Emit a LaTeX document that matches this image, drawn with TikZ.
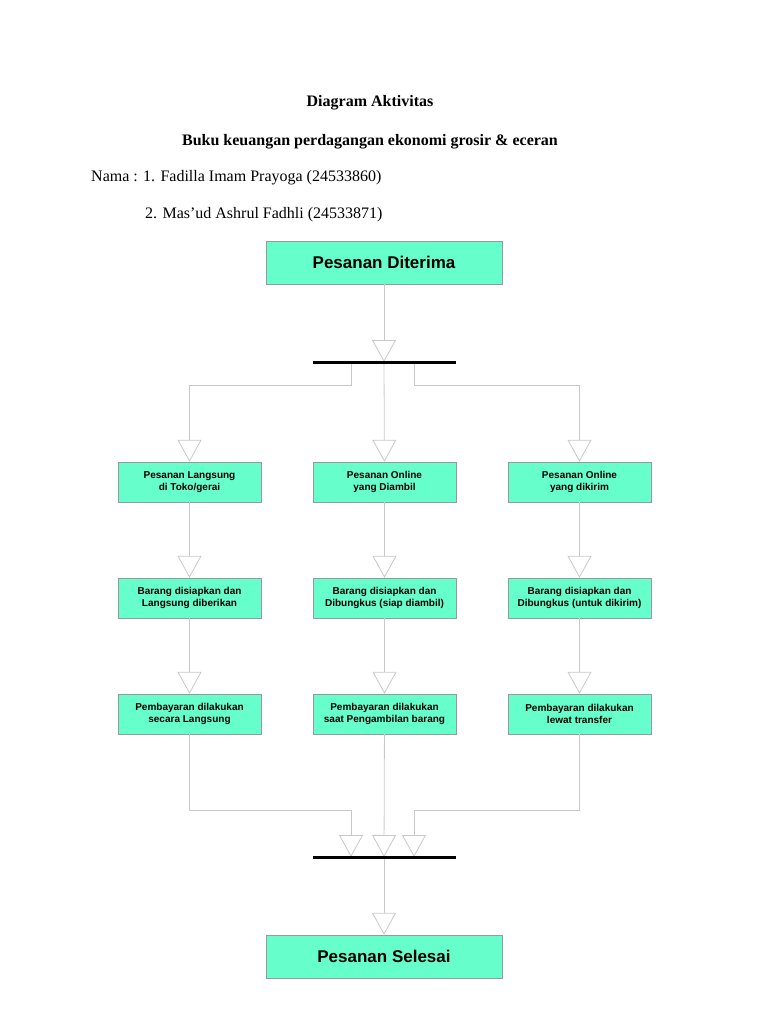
\documentclass[tikz,border=0pt]{standalone}
\usepackage{fontspec}
\setmainfont{Liberation Serif}
\newfontfamily\boxfont{Liberation Sans}
\usetikzlibrary{arrows.meta}
\definecolor{boxc}{HTML}{66FFCC}
\definecolor{lnc}{HTML}{C8C8C8}
\begin{document}
\begin{tikzpicture}[x=1pt,y=-1pt,
  big/.style={draw=gray!80,fill=boxc,minimum width=236pt,minimum height=43pt,inner sep=0pt,font=\boxfont\bfseries\fontsize{17}{20}\selectfont},
  act/.style={draw=gray!80,fill=boxc,minimum width=143pt,minimum height=40pt,inner sep=0pt,align=center,font=\boxfont\bfseries\fontsize{10}{12}\selectfont},
  conn/.style={draw=lnc,line width=0.8pt},
  arr/.style={conn,-{Triangle[open,length=22pt,width=24pt]}},
  bar/.style={line width=3pt,black},
  txt/.style={inner sep=0pt,font=\fontsize{16}{19}\selectfont}]
\useasboundingbox (0,0) rectangle (768,1024);
\node[txt,font=\bfseries\fontsize{16}{19}\selectfont] (t1) at (370,103) {Diagram Aktivitas};
\node[txt,font=\bfseries\fontsize{16}{19}\selectfont] (t2) at (370,142) {Buku keuangan perdagangan ekonomi grosir \& eceran};
\node[txt,anchor=west] (t3) at (91,178) {Nama : 1. Fadilla Imam Prayoga (24533860)};
\node[txt,anchor=west] (t4) at (145,215) {2. Mas’ud Ashrul Fadhli (24533871)};

\node[big] (start) at (384,262.5) {Pesanan Diterima};
\node[big] (end) at (384,956.5) {Pesanan Selesai};
\coordinate (b1l) at (313,362); \coordinate (b1r) at (456,362);
\coordinate (b1c) at (384,362);
\coordinate (b2l) at (313,857); \coordinate (b2r) at (456,857);
\coordinate (b2c) at (384,857);

\node[act] (a1) at (189.5,482) {Pesanan Langsung\\di Toko/gerai};
\node[act] (b1) at (384.5,482) {Pesanan Online\\yang Diambil};
\node[act] (c1) at (579.5,482) {Pesanan Online\\yang dikirim};
\node[act] (a2) at (189.5,598) {Barang disiapkan dan\\Langsung diberikan};
\node[act] (b2) at (384.5,598) {Barang disiapkan dan\\Dibungkus (siap diambil)};
\node[act] (c2) at (579.5,598) {Barang disiapkan dan\\Dibungkus (untuk dikirim)};
\node[act] (a3) at (189.5,714) {Pembayaran dilakukan\\secara Langsung};
\node[act] (b3) at (384.5,714) {Pembayaran dilakukan\\saat Pengambilan barang};
\node[act] (c3) at (579.5,714) {Pembayaran dilakukan\\lewat transfer};

\draw[arr] (start) -- (b1c);
\coordinate (f1) at (351,362); \coordinate (f2) at (414,362);
\draw[arr] (f1) |- (189.5,385) -- (a1);
\draw[arr] (b1c) -- (b1);
\draw[arr] (f2) |- (579.5,385) -- (c1);
\foreach \p/\q in {a1/a2,b1/b2,c1/c2,a2/a3,b2/b3,c2/c3}{\draw[arr] (\p) -- (\q);}
\coordinate (j1) at (351,857); \coordinate (j2) at (414,857);
\draw[arr] (a3) |- (351,810) -- (j1);
\draw[arr] (b3) -- (b2c);
\draw[arr] (c3) |- (414,810) -- (j2);
\draw[arr] (b2c) -- (end);
\draw[bar] (b1l) -- (b1r);
\draw[bar] (b2l) -- (b2r);
\end{tikzpicture}
\end{document}
